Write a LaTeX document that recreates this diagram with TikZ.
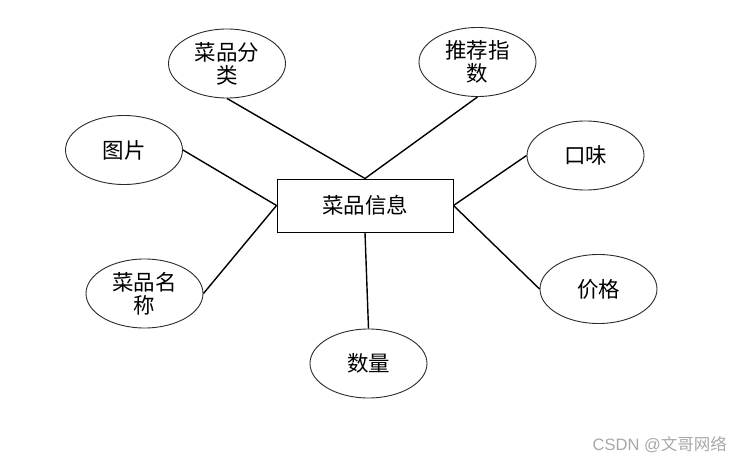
\documentclass[tikz,border=0pt]{standalone}
\usepackage{fontspec}
\setmainfont{Noto Sans CJK SC}
\newfontfamily\latinmark{Liberation Sans}
\usepackage{xcolor}
\usepackage{tikz}
\usetikzlibrary{shapes.geometric,positioning}
\definecolor{cLine}{HTML}{000000}
\definecolor{cEll}{HTML}{2B2B2B}
\definecolor{cMark}{HTML}{A8A8A8}
\tikzset{
  erattr/.style={draw=cEll,ellipse,line width=0.9pt,inner sep=0pt,
      minimum width=117pt,minimum height=69pt,align=center,
      font=\fontsize{21.5}{23}\selectfont},
  erent/.style={draw=cLine,rectangle,line width=1pt,inner sep=0pt,
      minimum width=176pt,minimum height=53pt,
      font=\fontsize{21.5}{23}\selectfont},
  erlink/.style={draw=cLine,line width=1.4pt},
  ermark/.style={font=\fontsize{16.5}{18}\selectfont,text=cMark,inner sep=0pt},
}
\newcommand{\attrnode}[4]{\node[erattr] (#1) at (#2,#3) {#4};}
\begin{document}
\begin{tikzpicture}[x=1pt,y=-1pt]
  \fill[white] (0,0) rectangle (742,463);

  \node[erent] (info) at (365,205.5) {菜品信息};

  \attrnode{fl}{227}{63.5}{菜品分\\类}
  \attrnode{tj}{477.5}{62}{推荐指\\数}
  \attrnode{tp}{124}{150}{图片}
  \attrnode{kw}{585.5}{155.5}{口味}
  \attrnode{mc}{144.5}{293.5}{菜品名\\称}
  \attrnode{jg}{598.5}{289}{价格}
  \attrnode{sl}{368.5}{363.5}{数量}

  \draw[erlink] (fl.south) -- (info.north);
  \draw[erlink] (tj.south) -- (info.north);
  \draw[erlink] (tp.east) -- (info.west);
  \draw[erlink] (mc.east) -- (info.west);
  \draw[erlink] (kw.west) -- (info.east);
  \draw[erlink] (jg.west) -- (info.east);
  \draw[erlink] (info.south) -- (sl.north);

  \node[ermark,anchor=east] (mark) at (727,445) {{\latinmark CSDN @}文哥网络};
\end{tikzpicture}
\end{document}
